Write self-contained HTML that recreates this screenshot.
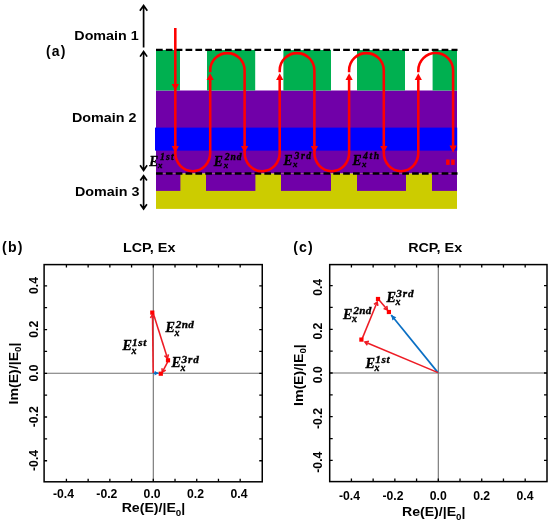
<!DOCTYPE html>
<html lang="en"><head><meta charset="utf-8"><title>Figure</title>
<style>
html,body{margin:0;padding:0;background:#fff;}
body{width:550px;height:524px;overflow:hidden;}
svg{display:block;}
.sb{font-family:"Liberation Sans",sans-serif;font-weight:bold;fill:#000;}
.mi{font-family:"Liberation Serif",serif;font-weight:bold;font-style:italic;fill:#000;}
</style></head><body>
<svg width="550" height="524" viewBox="0 0 550 524">
<rect x="0" y="0" width="550" height="524" fill="#ffffff"/>

<g id="panelA">
<rect x="156.0" y="90.5" width="301.0" height="83.0" fill="#7000a8"/>
<rect x="156.0" y="173.5" width="301.0" height="35.400000000000006" fill="#cccc00"/>
<rect x="155.0" y="127.6" width="302.2" height="23.0" fill="#0000ff"/>
<rect x="156" y="50.0" width="24" height="40.5" fill="#00b050"/>
<rect x="207" y="50.0" width="48.2" height="40.5" fill="#00b050"/>
<rect x="283.4" y="50.0" width="47.6" height="40.5" fill="#00b050"/>
<rect x="357" y="50.0" width="48" height="40.5" fill="#00b050"/>
<rect x="432.6" y="50.0" width="24.4" height="40.5" fill="#00b050"/>
<rect x="156" y="173.5" width="24.4" height="17.400000000000006" fill="#7000a8"/>
<rect x="206" y="173.5" width="49.4" height="17.400000000000006" fill="#7000a8"/>
<rect x="281" y="173.5" width="50" height="17.400000000000006" fill="#7000a8"/>
<rect x="357" y="173.5" width="49" height="17.400000000000006" fill="#7000a8"/>
<rect x="432" y="173.5" width="25" height="17.400000000000006" fill="#7000a8"/>
<line x1="156.0" y1="49.8" x2="457.5" y2="49.8" stroke="#000" stroke-width="2.3" stroke-dasharray="6.7 3.15"/>
<line x1="156.0" y1="173.5" x2="457.5" y2="173.5" stroke="#000" stroke-width="2.3" stroke-dasharray="6.7 3.15"/>
<path d="M175.3 28 L175.3 153.1 A17.45 18.1 0 0 0 210.2 153.1 L210.2 79.6 M210.2 72.3 L210.2 70.5 A17.2 17.4 0 0 1 244.6 70.5 L244.6 153.1 A17.55 18.1 0 0 0 279.7 153.1 L279.7 79.6 M279.7 72.3 L279.7 70.5 A17.35 17.4 0 0 1 314.4 70.5 L314.4 153.1 A17.35 18.1 0 0 0 349.1 153.1 L349.1 79.6 M349.1 72.3 L349.1 70.5 A17.35 17.4 0 0 1 383.8 70.5 L383.8 153.1 A17.25 18.1 0 0 0 418.3 153.1 L418.3 79.6 M418.3 72.3 L418.3 70.5 A17.4 17.4 0 0 1 453.1 70.5 L453.1 146 " fill="none" stroke="#ff0000" stroke-width="2.55"/>
<polygon points="171.6,84 179,84 175.3,90.6" fill="#ff0000"/>
<polygon points="171.7,146 178.9,146 175.3,153" fill="#ff0000"/>
<polygon points="241,146 248.2,146 244.6,153" fill="#ff0000"/>
<polygon points="310.8,146 318,146 314.4,153" fill="#ff0000"/>
<polygon points="380.2,146 387.4,146 383.8,153" fill="#ff0000"/>
<polygon points="449.5,145.6 456.7,145.6 453.1,152.6" fill="#ff0000"/>
<polygon points="206.6,80 213.8,80 210.2,73.2" fill="#ff0000"/>
<polygon points="276.1,80 283.3,80 279.7,73.2" fill="#ff0000"/>
<polygon points="345.5,80 352.7,80 349.1,73.2" fill="#ff0000"/>
<polygon points="414.7,80 421.9,80 418.3,73.2" fill="#ff0000"/>
<rect x="446.1" y="159.5" width="3.5" height="5.4" fill="#ff0000"/>
<rect x="451.2" y="159.5" width="3.5" height="5.4" fill="#ff0000"/>
<path d="M143.6 5.4 L143.6 47.6 M139.9 10.8 L143.6 5.4 L147.29999999999998 10.8" fill="none" stroke="#000" stroke-width="1.7" stroke-linejoin="miter"/>
<path d="M143.6 51.4 L143.6 170.5 M140.1 56.6 L143.6 51.4 L147.1 56.6 M140.1 165.3 L143.6 170.5 L147.1 165.3" fill="none" stroke="#000" stroke-width="1.7" stroke-linejoin="miter"/>
<path d="M143.6 175.8 L143.6 209.0 M140.29999999999998 180.60000000000002 L143.6 175.8 L146.9 180.60000000000002 M140.29999999999998 204.2 L143.6 209.0 L146.9 204.2" fill="none" stroke="#000" stroke-width="1.7" stroke-linejoin="miter"/>
<text class="sb" x="74.3" y="40.2" font-size="13.3" textLength="64.4" lengthAdjust="spacingAndGlyphs">Domain 1</text>
<text class="sb" x="72.0" y="121.8" font-size="13.3" textLength="64.5" lengthAdjust="spacingAndGlyphs">Domain 2</text>
<text class="sb" x="75.0" y="195.8" font-size="13.3" textLength="64.4" lengthAdjust="spacingAndGlyphs">Domain 3</text>
<text class="sb" x="46" y="55.5" font-size="14" letter-spacing="1.2">(a)</text>
<text class="mi" transform="translate(149.3 165.8) scale(1 1.0)" font-size="13.6" stroke="#000" stroke-width="0.35">E</text><text class="mi" x="158.1" y="168" font-size="8.84" stroke="#000" stroke-width="0.35">x</text><text class="mi" x="160" y="159.8" font-size="9.66" textLength="13.6" lengthAdjust="spacing" stroke="#000" stroke-width="0.35">1st</text>
<text class="mi" transform="translate(213.8 165.8) scale(1 1.0)" font-size="13.6" stroke="#000" stroke-width="0.35">E</text><text class="mi" x="223.8" y="168" font-size="8.84" stroke="#000" stroke-width="0.35">x</text><text class="mi" x="224.8" y="159.8" font-size="9.66" textLength="16.8" lengthAdjust="spacing" stroke="#000" stroke-width="0.35">2nd</text>
<text class="mi" transform="translate(283.6 164.6) scale(1 1.0)" font-size="13.6" stroke="#000" stroke-width="0.35">E</text><text class="mi" x="293" y="166.8" font-size="8.84" stroke="#000" stroke-width="0.35">x</text><text class="mi" x="294.4" y="158.6" font-size="9.66" textLength="16.8" lengthAdjust="spacing" stroke="#000" stroke-width="0.35">3rd</text>
<text class="mi" transform="translate(352.4 164.6) scale(1 1.0)" font-size="13.6" stroke="#000" stroke-width="0.35">E</text><text class="mi" x="362" y="166.8" font-size="8.84" stroke="#000" stroke-width="0.35">x</text><text class="mi" x="363" y="158.6" font-size="9.66" textLength="16.2" lengthAdjust="spacing" stroke="#000" stroke-width="0.35">4th</text>
</g>
<g id="panelB">
<line x1="44.1" y1="373.3" x2="262.25" y2="373.3" stroke="#707070" stroke-width="1.1"/>
<line x1="153.3" y1="264.6" x2="153.3" y2="481.8" stroke="#707070" stroke-width="1.1"/>
<path d="M66.42 264.6 v3 M66.42 481.8 v-3 M44.1 285.86 h3 M262.25 285.86 h-3 M88.14 264.6 v3 M88.14 481.8 v-3 M44.1 307.72 h3 M262.25 307.72 h-3 M109.86 264.6 v3 M109.86 481.8 v-3 M44.1 329.58 h3 M262.25 329.58 h-3 M131.58 264.6 v3 M131.58 481.8 v-3 M44.1 351.44 h3 M262.25 351.44 h-3 M153.3 264.6 v3 M153.3 481.8 v-3 M44.1 373.3 h3 M262.25 373.3 h-3 M175.02 264.6 v3 M175.02 481.8 v-3 M44.1 395.16 h3 M262.25 395.16 h-3 M196.74 264.6 v3 M196.74 481.8 v-3 M44.1 417.02 h3 M262.25 417.02 h-3 M218.46 264.6 v3 M218.46 481.8 v-3 M44.1 438.88 h3 M262.25 438.88 h-3 M240.18 264.6 v3 M240.18 481.8 v-3 M44.1 460.74 h3 M262.25 460.74 h-3" stroke="#000" stroke-width="1.3" fill="none"/>
<rect x="44.1" y="264.6" width="218.15" height="217.2" fill="none" stroke="#000" stroke-width="1.5"/>
<text class="sb" x="63.42" y="497.7" font-size="12.2" text-anchor="middle">-0.4</text>
<text class="sb" transform="translate(38.1 460.44) rotate(-90)" font-size="12.2" text-anchor="middle">-0.4</text>
<text class="sb" x="106.86" y="497.7" font-size="12.2" text-anchor="middle">-0.2</text>
<text class="sb" transform="translate(38.1 416.72) rotate(-90)" font-size="12.2" text-anchor="middle">-0.2</text>
<text class="sb" x="152.1" y="497.7" font-size="12.2" text-anchor="middle">0.0</text>
<text class="sb" transform="translate(38.1 373) rotate(-90)" font-size="12.2" text-anchor="middle">0.0</text>
<text class="sb" x="195.54" y="497.7" font-size="12.2" text-anchor="middle">0.2</text>
<text class="sb" transform="translate(38.1 329.28) rotate(-90)" font-size="12.2" text-anchor="middle">0.2</text>
<text class="sb" x="238.98" y="497.7" font-size="12.2" text-anchor="middle">0.4</text>
<text class="sb" transform="translate(38.1 285.56) rotate(-90)" font-size="12.2" text-anchor="middle">0.4</text>
<text class="sb" x="121.68" y="512.4" font-size="13.4" textLength="63.6" lengthAdjust="spacingAndGlyphs">Re(E)/|E<tspan font-size="9.3" dy="3.2">0</tspan><tspan dy="-3.2">|</tspan></text>
<text class="sb" transform="translate(18.1 404.4) rotate(-90)" font-size="13.4" textLength="61.8" lengthAdjust="spacingAndGlyphs">Im(E)/|E<tspan font-size="9.3" dy="3.2">0</tspan><tspan dy="-3.2">|</tspan></text>
<text class="sb" x="122.98" y="251.8" font-size="13.4" textLength="52.4" lengthAdjust="spacingAndGlyphs">LCP, Ex</text>
<text class="sb" x="2" y="251.5" font-size="14.1" letter-spacing="1.2">(b)</text>
<line x1="153.5" y1="373.2" x2="158.4" y2="373.2" stroke="#0a6fc4" stroke-width="1.6"/><polygon points="154.6,375.6 158.4,373.2 154.6,370.8" fill="#0a6fc4"/>
<line x1="153.2" y1="373" x2="152.5" y2="314.6" stroke="#ee1c25" stroke-width="1.55"/><polyline points="154.64,317.97 152.5,314.6 150.44,318.02" fill="none" stroke="#ee1c25" stroke-width="1.55"/>
<line x1="153.3" y1="313.6" x2="167.5" y2="358.3" stroke="#ee1c25" stroke-width="1.55"/><polyline points="164.47,355.7 167.5,358.3 168.47,354.42" fill="none" stroke="#ee1c25" stroke-width="1.55"/>
<line x1="167.7" y1="361.8" x2="162.3" y2="372.2" stroke="#ee1c25" stroke-width="1.55"/><polyline points="162,368.21 162.3,372.2 165.73,370.15" fill="none" stroke="#ee1c25" stroke-width="1.55"/>
<rect x="150.2" y="310.5" width="4.2" height="4.2" fill="#ff0000"/>
<rect x="165.9" y="358.2" width="4.2" height="4.2" fill="#ff0000"/>
<rect x="158.7" y="371.6" width="4.2" height="4.2" fill="#ff0000"/>
<text class="mi" transform="translate(122.4 349.9) scale(1 1.0)" font-size="14.2" stroke="#000" stroke-width="0.35">E</text><text class="mi" x="131.4" y="353.5" font-size="9.94" stroke="#000" stroke-width="0.35">x</text><text class="mi" x="132" y="345.5" font-size="11.22" textLength="14.4" lengthAdjust="spacing" stroke="#000" stroke-width="0.35">1st</text>
<text class="mi" transform="translate(165.4 332.2) scale(1 1.0)" font-size="14.2" stroke="#000" stroke-width="0.35">E</text><text class="mi" x="174.4" y="335.8" font-size="9.94" stroke="#000" stroke-width="0.35">x</text><text class="mi" x="175.8" y="327.8" font-size="11.22" textLength="18" lengthAdjust="spacing" stroke="#000" stroke-width="0.35">2nd</text>
<text class="mi" transform="translate(171.6 367.2) scale(1 1.0)" font-size="14.2" stroke="#000" stroke-width="0.35">E</text><text class="mi" x="180.6" y="370.8" font-size="9.94" stroke="#000" stroke-width="0.35">x</text><text class="mi" x="181.4" y="362.8" font-size="11.22" textLength="17.4" lengthAdjust="spacing" stroke="#000" stroke-width="0.35">3rd</text>
</g>
<g id="panelC">
<line x1="329.7" y1="373" x2="547" y2="373" stroke="#707070" stroke-width="1.1"/>
<line x1="438.3" y1="264.6" x2="438.3" y2="481.6" stroke="#707070" stroke-width="1.1"/>
<path d="M351.42 264.6 v3 M351.42 481.6 v-3 M329.7 285.6 h3 M547 285.6 h-3 M373.14 264.6 v3 M373.14 481.6 v-3 M329.7 307.45 h3 M547 307.45 h-3 M394.86 264.6 v3 M394.86 481.6 v-3 M329.7 329.3 h3 M547 329.3 h-3 M416.58 264.6 v3 M416.58 481.6 v-3 M329.7 351.15 h3 M547 351.15 h-3 M438.3 264.6 v3 M438.3 481.6 v-3 M329.7 373 h3 M547 373 h-3 M460.02 264.6 v3 M460.02 481.6 v-3 M329.7 394.85 h3 M547 394.85 h-3 M481.74 264.6 v3 M481.74 481.6 v-3 M329.7 416.7 h3 M547 416.7 h-3 M503.46 264.6 v3 M503.46 481.6 v-3 M329.7 438.55 h3 M547 438.55 h-3 M525.18 264.6 v3 M525.18 481.6 v-3 M329.7 460.4 h3 M547 460.4 h-3" stroke="#000" stroke-width="1.3" fill="none"/>
<rect x="329.7" y="264.6" width="217.3" height="217" fill="none" stroke="#000" stroke-width="1.5"/>
<text class="sb" x="349.52" y="500.3" font-size="12.2" text-anchor="middle">-0.4</text>
<text class="sb" transform="translate(322.3 462.2) rotate(-90)" font-size="12.2" text-anchor="middle">-0.4</text>
<text class="sb" x="392.96" y="500.3" font-size="12.2" text-anchor="middle">-0.2</text>
<text class="sb" transform="translate(322.3 418.5) rotate(-90)" font-size="12.2" text-anchor="middle">-0.2</text>
<text class="sb" x="438.2" y="500.3" font-size="12.2" text-anchor="middle">0.0</text>
<text class="sb" transform="translate(322.3 374.8) rotate(-90)" font-size="12.2" text-anchor="middle">0.0</text>
<text class="sb" x="481.64" y="500.3" font-size="12.2" text-anchor="middle">0.2</text>
<text class="sb" transform="translate(322.3 331.1) rotate(-90)" font-size="12.2" text-anchor="middle">0.2</text>
<text class="sb" x="525.08" y="500.3" font-size="12.2" text-anchor="middle">0.4</text>
<text class="sb" transform="translate(322.3 287.4) rotate(-90)" font-size="12.2" text-anchor="middle">0.4</text>
<text class="sb" x="401.95" y="516.4" font-size="13.4" textLength="63.6" lengthAdjust="spacingAndGlyphs">Re(E)/|E<tspan font-size="9.3" dy="3.2">0</tspan><tspan dy="-3.2">|</tspan></text>
<text class="sb" transform="translate(302.9 406) rotate(-90)" font-size="13.4" textLength="61.8" lengthAdjust="spacingAndGlyphs">Im(E)/|E<tspan font-size="9.3" dy="3.2">0</tspan><tspan dy="-3.2">|</tspan></text>
<text class="sb" x="408.15" y="251.8" font-size="13.4" textLength="54.0" lengthAdjust="spacingAndGlyphs">RCP, Ex</text>
<text class="sb" x="293.2" y="251.5" font-size="14.1" letter-spacing="1.2">(c)</text>
<line x1="438" y1="372.6" x2="391.2" y2="315" stroke="#0a6fc4" stroke-width="1.7"/><polygon points="396.29,317.3 391.2,315 392.41,320.46" fill="#0a6fc4"/>
<line x1="438" y1="372.6" x2="365" y2="342" stroke="#ee1c25" stroke-width="1.55"/><polyline points="368.95,341.38 365,342 367.32,345.25" fill="none" stroke="#ee1c25" stroke-width="1.55"/>
<line x1="362.2" y1="338.6" x2="377.2" y2="302" stroke="#ee1c25" stroke-width="1.55"/><polyline points="377.85,305.94 377.2,302 373.97,304.35" fill="none" stroke="#ee1c25" stroke-width="1.55"/>
<line x1="379.5" y1="300.5" x2="387.4" y2="309.8" stroke="#ee1c25" stroke-width="1.55"/><polyline points="383.6,308.57 387.4,309.8 386.8,305.85" fill="none" stroke="#ee1c25" stroke-width="1.55"/>
<rect x="359.3" y="337.5" width="4.2" height="4.2" fill="#ff0000"/>
<rect x="375.9" y="296.9" width="4.2" height="4.2" fill="#ff0000"/>
<rect x="386.8" y="309.9" width="4.2" height="4.2" fill="#ff0000"/>
<text class="mi" transform="translate(365.6 367.8) scale(1 1.0)" font-size="14.2" stroke="#000" stroke-width="0.35">E</text><text class="mi" x="374.6" y="371.4" font-size="9.94" stroke="#000" stroke-width="0.35">x</text><text class="mi" x="375.2" y="363.4" font-size="11.22" textLength="14.4" lengthAdjust="spacing" stroke="#000" stroke-width="0.35">1st</text>
<text class="mi" transform="translate(343 318.6) scale(1 1.0)" font-size="14.2" stroke="#000" stroke-width="0.35">E</text><text class="mi" x="352" y="322.2" font-size="9.94" stroke="#000" stroke-width="0.35">x</text><text class="mi" x="353.4" y="314.2" font-size="11.22" textLength="18" lengthAdjust="spacing" stroke="#000" stroke-width="0.35">2nd</text>
<text class="mi" transform="translate(386.4 301.8) scale(1 1.0)" font-size="14.2" stroke="#000" stroke-width="0.35">E</text><text class="mi" x="395.4" y="305.4" font-size="9.94" stroke="#000" stroke-width="0.35">x</text><text class="mi" x="396.2" y="297.4" font-size="11.22" textLength="17.4" lengthAdjust="spacing" stroke="#000" stroke-width="0.35">3rd</text>
</g>
</svg>
</body></html>
